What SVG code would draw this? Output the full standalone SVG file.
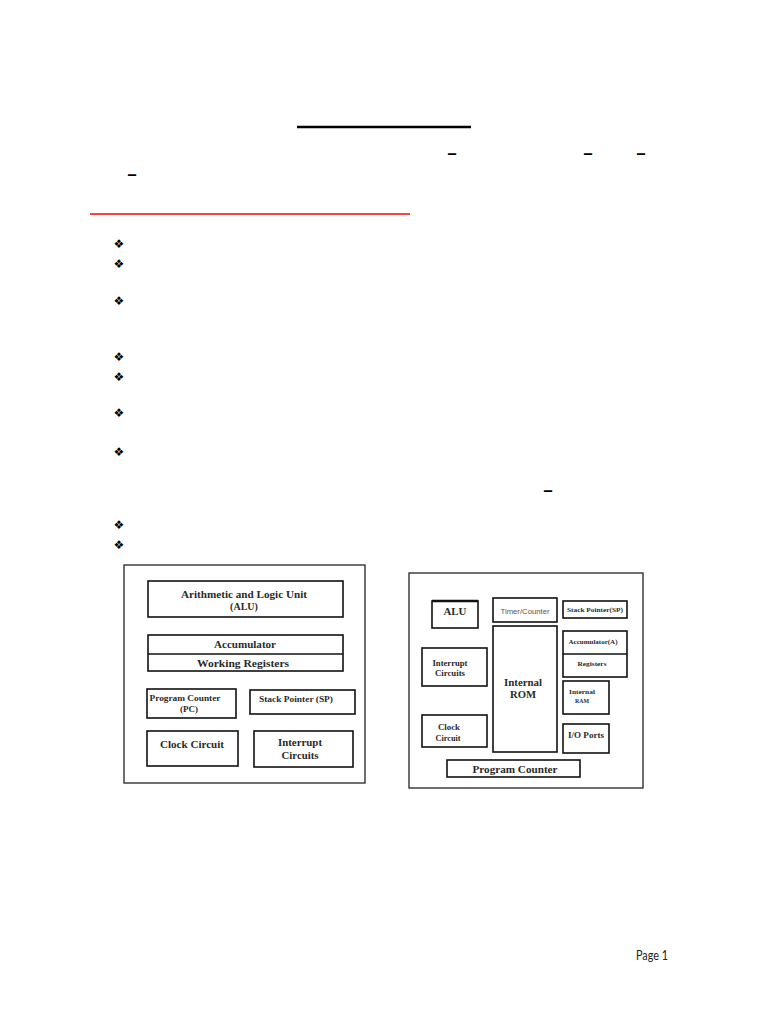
<svg xmlns="http://www.w3.org/2000/svg" width="768" height="1024" viewBox="0 0 768 1024">
<style>
.bx{fill:none;stroke:#111;stroke-width:1.6}
.ob{fill:none;stroke:#333;stroke-width:1.4}
.t{font-family:"Liberation Serif",serif;font-weight:bold;fill:#2a2a2a;text-anchor:middle}
.ts{font-family:"Liberation Sans",sans-serif;fill:#555;text-anchor:middle}
.b{font-family:"DejaVu Sans",sans-serif;font-size:12px;fill:#000;text-anchor:middle}
.d{font-family:"Liberation Serif",serif;font-weight:bold;font-size:26px;fill:#000;text-anchor:middle}
</style>
<rect width="768" height="1024" fill="#fff"/>
<g id="header">
<line x1="297" y1="127" x2="471" y2="127" stroke="#000" stroke-width="2.4"/>
<text class="d" x="452" y="160" textLength="8" lengthAdjust="spacingAndGlyphs">–</text>
<text class="d" x="588" y="160" textLength="8" lengthAdjust="spacingAndGlyphs">–</text>
<text class="d" x="641" y="160" textLength="8" lengthAdjust="spacingAndGlyphs">–</text>
<text class="d" x="132" y="181" textLength="8" lengthAdjust="spacingAndGlyphs">–</text>
<line x1="90" y1="214" x2="410" y2="214" stroke="#f00" stroke-width="1.6"/>
<text class="d" x="548" y="497" textLength="8" lengthAdjust="spacingAndGlyphs">–</text>
</g>
<g id="bullets">
<text class="b" x="119" y="248">❖</text>
<text class="b" x="119" y="268">❖</text>
<text class="b" x="119" y="305">❖</text>
<text class="b" x="119" y="361">❖</text>
<text class="b" x="119" y="381">❖</text>
<text class="b" x="119" y="417">❖</text>
<text class="b" x="119" y="456">❖</text>
<text class="b" x="119" y="529">❖</text>
<text class="b" x="119" y="549">❖</text>
</g>
<g id="diagram1">
<rect class="ob" x="124" y="565" width="241" height="218"/>
<g id="d1-alu">
<rect class="bx" x="148" y="581" width="195" height="36"/>
<text class="t" x="244" y="598" font-size="10" textLength="126" lengthAdjust="spacingAndGlyphs">Arithmetic and Logic Unit</text>
<text class="t" x="244" y="610" font-size="10">(ALU)</text>
</g>
<g id="d1-acc">
<rect class="bx" x="148" y="635" width="195" height="36"/>
<line x1="148" y1="654" x2="343" y2="654" stroke="#111" stroke-width="1.4"/>
<text class="t" x="245" y="648" font-size="10" textLength="62" lengthAdjust="spacingAndGlyphs">Accumulator</text>
<text class="t" x="243" y="667" font-size="10" textLength="92" lengthAdjust="spacingAndGlyphs">Working Registers</text>
</g>
<g id="d1-pc">
<rect class="bx" x="147" y="689" width="89" height="29"/>
<text class="t" x="185" y="701" font-size="9" textLength="71" lengthAdjust="spacingAndGlyphs">Program Counter</text>
<text class="t" x="189" y="712" font-size="9">(PC)</text>
</g>
<g id="d1-sp">
<rect class="bx" x="250" y="690" width="105" height="24"/>
<text class="t" x="296" y="702" font-size="9" textLength="74" lengthAdjust="spacingAndGlyphs">Stack Pointer (SP)</text>
</g>
<g id="d1-clock">
<rect class="bx" x="147" y="731" width="91" height="35"/>
<text class="t" x="192" y="748" font-size="10" textLength="64" lengthAdjust="spacingAndGlyphs">Clock Circuit</text>
</g>
<g id="d1-int">
<rect class="bx" x="254" y="731" width="99" height="36"/>
<text class="t" x="300" y="746" font-size="10" textLength="44" lengthAdjust="spacingAndGlyphs">Interrupt</text>
<text class="t" x="300" y="759" font-size="10" textLength="37" lengthAdjust="spacingAndGlyphs">Circuits</text>
</g>
</g>
<g id="diagram2">
<rect class="ob" x="409" y="573" width="234" height="215"/>
<g id="d2-alu">
<rect class="bx" x="432" y="601" width="46" height="27"/>
<line x1="432" y1="601" x2="478" y2="601" stroke="#111" stroke-width="2.4"/>
<text class="t" x="455" y="615" font-size="10" textLength="23" lengthAdjust="spacingAndGlyphs">ALU</text>
</g>
<g id="d2-timer">
<rect class="bx" x="493" y="598" width="64" height="24"/>
<text class="ts" x="525" y="614" font-size="8" textLength="49" lengthAdjust="spacingAndGlyphs">Timer/Counter</text>
</g>
<g id="d2-sp">
<rect class="bx" x="563" y="601" width="64" height="17"/>
<text class="t" x="595" y="612" font-size="7" textLength="56" lengthAdjust="spacingAndGlyphs">Stack Pointer(SP)</text>
</g>
<g id="d2-rom">
<rect class="bx" x="493" y="626" width="64" height="126"/>
<text class="t" x="523" y="686" font-size="11" textLength="38" lengthAdjust="spacingAndGlyphs">Internal</text>
<text class="t" x="523" y="698" font-size="11" textLength="26" lengthAdjust="spacingAndGlyphs">ROM</text>
</g>
<g id="d2-acc">
<rect class="bx" x="563" y="631" width="64" height="46"/>
<line x1="563" y1="654" x2="627" y2="654" stroke="#111" stroke-width="1.4"/>
<text class="t" x="593" y="644" font-size="7" textLength="49" lengthAdjust="spacingAndGlyphs">Accumulator(A)</text>
<text class="t" x="592" y="666" font-size="7" textLength="29" lengthAdjust="spacingAndGlyphs">Registers</text>
</g>
<g id="d2-int">
<rect class="bx" x="422" y="648" width="65" height="38"/>
<text class="t" x="450" y="666" font-size="8" textLength="35" lengthAdjust="spacingAndGlyphs">Interrupt</text>
<text class="t" x="450" y="676" font-size="8" textLength="30" lengthAdjust="spacingAndGlyphs">Circuits</text>
</g>
<g id="d2-ram">
<rect class="bx" x="563" y="681" width="46" height="33"/>
<text class="t" x="582" y="694" font-size="7" textLength="26" lengthAdjust="spacingAndGlyphs">Internal</text>
<text class="t" x="582" y="703" font-size="7" textLength="14" lengthAdjust="spacingAndGlyphs">RAM</text>
</g>
<g id="d2-clock">
<rect class="bx" x="422" y="715" width="65" height="32"/>
<text class="t" x="449" y="730" font-size="8" textLength="22" lengthAdjust="spacingAndGlyphs">Clock</text>
<text class="t" x="448" y="741" font-size="8" textLength="25" lengthAdjust="spacingAndGlyphs">Circuit</text>
</g>
<g id="d2-io">
<rect class="bx" x="563" y="724" width="46" height="29"/>
<text class="t" x="586" y="738" font-size="8" textLength="36" lengthAdjust="spacingAndGlyphs">I/O Ports</text>
</g>
<g id="d2-pc">
<rect class="bx" x="447" y="760" width="133" height="17"/>
<text class="t" x="515" y="773" font-size="10" textLength="85" lengthAdjust="spacingAndGlyphs">Program Counter</text>
</g>
</g>
<g id="connectors"></g>
<text x="636" y="960" font-family="Lato, 'Open Sans', sans-serif" font-size="13" fill="#222" textLength="32" lengthAdjust="spacingAndGlyphs">Page 1</text>
</svg>
